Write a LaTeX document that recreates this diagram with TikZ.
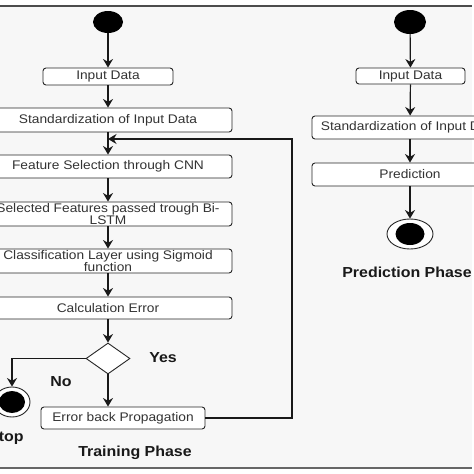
\documentclass[tikz,border=0pt]{standalone}
\usepackage{fontspec}
\setmainfont{Liberation Sans}[FakeStretch=1.1]
\usetikzlibrary{shapes.geometric,arrows.meta}

\begin{document}
\begin{tikzpicture}[x=1pt, y=-1pt,
		box/.style={draw=black!85, fill=white, rounded corners=3pt, line width=0.9pt, inner sep=0pt, align=center, text=black!80, font=\fontsize{12.5}{12}\selectfont},
		arr/.style={line width=1.2pt, draw=black!90, -{Stealth[length=8.5pt, width=10pt]}},
		dot/.style={ellipse, fill=black, inner sep=0pt},
		lbl/.style={font=\fontsize{14.5}{15}\selectfont\bfseries, text=black!90}]
	\useasboundingbox (0,0) rectangle (474,474);
	\fill [black!3] (0,6) rectangle (472,468);
	\draw [black!70, line width=1.2pt] (0,6) -- (472,6);
	\draw [black!60, line width=1.8pt] (0,468) -- (472,468);
	% training phase
	\node [dot, minimum width=30, minimum height=22] (st1) at (108,22) {};
	\node [box, minimum width=130, minimum height=17] (in1) at (108,76.5) {Input Data};
	\node [box, minimum width=248, minimum height=24] (std1) at (108,120) {Standardization of Input Data};
	\node [box, minimum width=248, minimum height=23] (cnn) at (108,166.5) {Feature Selection through CNN};
	\node [box, minimum width=248, minimum height=24] (lstm) at (108,214) {Selected Features passed trough Bi-\\LSTM};
	\node [box, minimum width=248, minimum height=24] (sig) at (108,261) {Classification Layer using Sigmoid\\function};
	\node [box, minimum width=248, minimum height=22] (err) at (108,308) {Calculation Error};
	\node [diamond, draw=black!85, fill=white, line width=0.9pt, minimum width=44, minimum height=31, inner sep=0pt] (dec) at (108,358.5) {};
	\node [box, minimum width=164, minimum height=22] (bp) at (123,418) {Error back Propagation};
	\node [ellipse, draw=black!85, fill=white, line width=0.9pt, minimum width=36, minimum height=30, inner sep=0pt] (stop) at (12,402) {};
	\node [dot, minimum width=26, minimum height=22] (stopin) at (stop) {};
	\coordinate (join) at (108,139);
	\coordinate (fbk) at (292,139);
	\draw [arr] (st1) -- (in1);
	\draw [arr] (in1) -- (std1);
	\draw [arr] (std1) -- (cnn);
	\draw [arr] (cnn) -- (lstm);
	\draw [arr] (lstm) -- (sig);
	\draw [arr] (sig) -- (err);
	\draw [arr] (err) -- (dec);
	\draw [arr] (dec.south) -- (dec.south |- bp.north);
	\draw [arr] (dec.west) -| (stop.north);
	\draw [arr] (bp.east) -| (fbk) -- (join);
	\node [lbl] (yes) at (163,358) {Yes};
	\node [lbl] (no) at (61,382) {No};
	\node [lbl] (stoplbl) at (6,438) {Stop};
	\node [lbl] (train) at (135,453) {Training Phase};
	% prediction phase
	\node [dot, minimum width=32, minimum height=24] (st2) at (410,22) {};
	\node [box, minimum width=109, minimum height=16] (in2) at (410.5,76) {Input Data};
	\node [box, minimum width=196, minimum height=23] (std2) at (410,127.5) {Standardization of Input Data};
	\node [box, minimum width=196, minimum height=23] (pred) at (410,174.5) {Prediction};
	\node [ellipse, draw=black!85, fill=white, line width=0.9pt, minimum width=46, minimum height=30, inner sep=0pt] (end2) at (410,234) {};
	\node [dot, minimum width=29, minimum height=22] (end2in) at (end2) {};
	\draw [arr] (st2) -- (in2);
	\draw [arr] (in2) -- (std2);
	\draw [arr] (std2) -- (pred);
	\draw [arr] (pred) -- (end2);
	\node [lbl] (predph) at (407,272) {Prediction Phase};
\end{tikzpicture}
\end{document}
